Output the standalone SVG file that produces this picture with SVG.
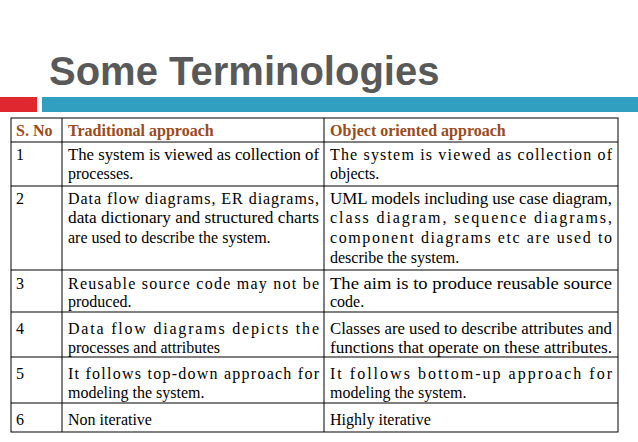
<svg xmlns="http://www.w3.org/2000/svg" width="638" height="442" viewBox="0 0 638 442">
<style>
.t{font-family:"Liberation Serif",serif;font-size:16px;fill:#000}
.h{font-family:"Liberation Serif",serif;font-size:16px;font-weight:bold;fill:#9c4a1a}
.g{stroke:#000;stroke-width:1;fill:none}
</style>
<rect width="638" height="442" fill="#fff"/>
<text x="49" y="85" font-family="Liberation Sans,sans-serif" font-weight="bold" font-size="40" fill="#595959">Some Terminologies</text>
<rect x="0" y="97" width="37" height="15" fill="#e0262f"/>
<rect x="42" y="97" width="596" height="15" fill="#31a0c0"/>
<g id="table" class="g">
<rect x="11" y="118" width="607" height="314"/>
<line x1="62" y1="118" x2="62" y2="432"/>
<line x1="324" y1="118" x2="324" y2="432"/>
<line x1="11" y1="142" x2="618" y2="142"/>
<line x1="11" y1="186" x2="618" y2="186"/>
<line x1="11" y1="270" x2="618" y2="270"/>
<line x1="11" y1="312" x2="618" y2="312"/>
<line x1="11" y1="357" x2="618" y2="357"/>
<line x1="11" y1="403" x2="618" y2="403"/>
</g>
<g id="header">
<text class="h" x="16" y="136">S. No</text>
<text class="h" x="68" y="136">Traditional approach</text>
<text class="h" x="330" y="136">Object oriented approach</text>
</g>
<g id="row1">
<text class="t" x="16" y="160">1</text>
<text class="t" x="68" y="160" textLength="251" lengthAdjust="spacingAndGlyphs">The system is viewed as collection of</text>
<text class="t" x="68" y="179">processes.</text>
<text class="t" x="330" y="160" textLength="282" lengthAdjust="spacing">The system is viewed as collection of</text>
<text class="t" x="330" y="179">objects.</text>
</g>
<g id="row2">
<text class="t" x="16" y="204">2</text>
<text class="t" x="68" y="204" textLength="251" lengthAdjust="spacing">Data flow diagrams, ER diagrams,</text>
<text class="t" x="68" y="223" textLength="251" lengthAdjust="spacingAndGlyphs">data dictionary and structured charts</text>
<text class="t" x="68" y="243">are used to describe the system.</text>
<text class="t" x="330" y="204" textLength="282" lengthAdjust="spacingAndGlyphs">UML models including use case diagram,</text>
<text class="t" x="330" y="223" textLength="282" lengthAdjust="spacing">class diagram, sequence diagrams,</text>
<text class="t" x="330" y="243" textLength="282" lengthAdjust="spacing">component diagrams etc are used to</text>
<text class="t" x="330" y="263">describe the system.</text>
</g>
<g id="row3">
<text class="t" x="16" y="289">3</text>
<text class="t" x="68" y="289" textLength="251" lengthAdjust="spacing">Reusable source code may not be</text>
<text class="t" x="68" y="307">produced.</text>
<text class="t" x="330" y="289" textLength="282" lengthAdjust="spacingAndGlyphs">The aim is to produce reusable source</text>
<text class="t" x="330" y="307">code.</text>
</g>
<g id="row4">
<text class="t" x="16" y="334">4</text>
<text class="t" x="68" y="334" textLength="251" lengthAdjust="spacing">Data flow diagrams depicts the</text>
<text class="t" x="68" y="353">processes and attributes</text>
<text class="t" x="330" y="334" textLength="282" lengthAdjust="spacingAndGlyphs">Classes are used to describe attributes and</text>
<text class="t" x="330" y="353" textLength="282" lengthAdjust="spacingAndGlyphs">functions that operate on these attributes.</text>
</g>
<g id="row5">
<text class="t" x="16" y="379">5</text>
<text class="t" x="68" y="379" textLength="251" lengthAdjust="spacing">It follows top-down approach for</text>
<text class="t" x="68" y="398">modeling the system.</text>
<text class="t" x="330" y="379" textLength="282" lengthAdjust="spacing">It follows bottom-up approach for</text>
<text class="t" x="330" y="398">modeling the system.</text>
</g>
<g id="row6">
<text class="t" x="16" y="425">6</text>
<text class="t" x="68" y="425">Non iterative</text>
<text class="t" x="330" y="425">Highly iterative</text>
</g>
</svg>
